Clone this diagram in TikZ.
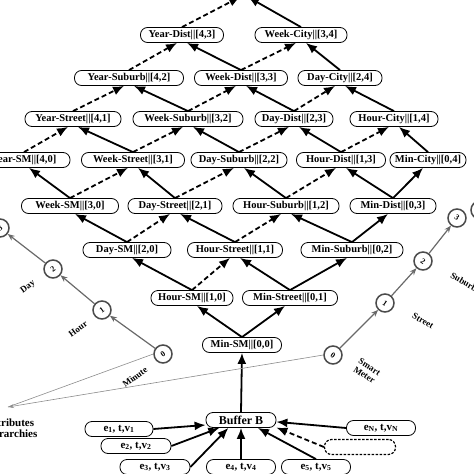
\documentclass[tikz,border=0pt]{standalone}
\usepackage{fontspec}
\setmainfont{Liberation Serif}
\usetikzlibrary{arrows.meta,calc}
\definecolor{hgray}{RGB}{105,105,105}
\definecolor{cgray}{RGB}{75,75,75}
\definecolor{lgray}{RGB}{140,140,140}
\begin{document}
\begin{tikzpicture}[x=1pt,y=-1pt,
  lat/.style={draw=black, line width=0.8pt, rounded corners=7pt, minimum height=15pt, inner sep=1pt, font=\bfseries\fontsize{10.5}{11}\selectfont},
  ev/.style={lat, font=\bfseries\fontsize{11}{12}\selectfont},
  up/.style={line width=1.8pt, -{Latex[length=11pt,width=9pt]}},
  updash/.style={up, dash pattern=on 5pt off 3pt},
  hc/.style={circle, draw=cgray, line width=1.5pt, minimum size=18pt, inner sep=0pt, font=\bfseries\fontsize{8}{8}\selectfont},
  harr/.style={draw=hgray, line width=1.2pt, -{Stealth[length=7pt,width=5.5pt]}},
  hlab/.style={font=\bfseries\fontsize{9}{9.5}\selectfont, align=center},
  thin gray/.style={draw=lgray, line width=0.6pt}
]
\useasboundingbox (0,0) rectangle (474,474);

% lattice nodes
\node[lat, minimum width=83pt]  (n43) at (182,35)  {Year-Dist||[4,3]};
\node[lat, minimum width=92pt]  (n34) at (301,35)  {Week-City||[3,4]};
\node[lat, minimum width=109pt] (n42) at (129,78)  {Year-Suburb||[4,2]};
\node[lat, minimum width=93pt]  (n33) at (241,78)  {Week-Dist||[3,3]};
\node[lat, minimum width=84pt]  (n24) at (340,78)  {Day-City||[2,4]};
\node[lat, minimum width=96pt]  (n41) at (73,119)  {Year-Street||[4,1]};
\node[lat, minimum width=110pt] (n32) at (188,119) {Week-Suburb||[3,2]};
\node[lat, minimum width=78pt]  (n23) at (294,119) {Day-Dist||[2,3]};
\node[lat, minimum width=88pt]  (n14) at (394,119) {Hour-City||[1,4]};
\node[lat, minimum width=92pt]  (n40) at (24,160)  {Year-SM||[4,0]};
\node[lat, minimum width=103pt] (n31) at (133,160) {Week-Street||[3,1]};
\node[lat, minimum width=96pt]  (n22) at (239,160) {Day-Suburb||[2,2]};
\node[lat, minimum width=89pt]  (n13) at (341,160) {Hour-Dist||[1,3]};
\node[lat, minimum width=76pt]  (n04) at (428,160) {Min-City||[0,4]};
\node[lat, minimum width=97pt]  (n30) at (70,206)  {Week-SM||[3,0]};
\node[lat, minimum width=94pt]  (n21) at (175,206) {Day-Street||[2,1]};
\node[lat, minimum width=106pt] (n12) at (286,206) {Hour-Suburb||[1,2]};
\node[lat, minimum width=86pt]  (n03) at (393,206) {Min-Dist||[0,3]};
\node[lat, minimum width=88pt]  (n20) at (127,250) {Day-SM||[2,0]};
\node[lat, minimum width=95pt]  (n11) at (235,250) {Hour-Street||[1,1]};
\node[lat, minimum width=102pt] (n02) at (352,250) {Min-Suburb||[0,2]};
\node[lat, minimum width=82pt]  (n10) at (192,298) {Hour-SM||[1,0]};
\node[lat, minimum width=95pt]  (n01) at (290,298) {Min-Street||[0,1]};
\node[lat, minimum width=79pt]  (n00) at (242,345) {Min-SM||[0,0]};
\coordinate (yc) at (244,-3);

% up-left edges (time level), solid
\foreach \a/\b in {00/10,10/20,20/30,30/40, 01/11,11/21,21/31,31/41, 02/12,12/22,22/32,32/42, 03/13,13/23,23/33,33/43, 04/14,14/24,24/34}
  \draw[up] (n\a.north) -- ([xshift=5pt]n\b.south);
% up-right edges (location level)
\foreach \a/\b in {00/01,01/02,02/03,03/04}
  \draw[up] (n\a.north) -- ([xshift=-5pt]n\b.south);
\foreach \a/\b in {10/11,11/12,12/13,13/14, 20/21,21/22,22/23,23/24, 30/31,31/32,32/33,33/34, 40/41,41/42,42/43}
  \draw[updash] (n\a.north) -- ([xshift=-5pt]n\b.south);
\draw[updash] (n43.north) -- ([xshift=-4pt]yc);
\draw[up] (n34.north) -- ([xshift=4pt]yc);

% buffer and events
\node[lat, minimum width=70pt, font=\bfseries\fontsize{12}{13}\selectfont] (bb) at (241,420) {Buffer B};
\node[ev, minimum width=68pt] (e1) at (119,429) {e\textsubscript{1}, t,v\textsubscript{1}};
\node[ev, minimum width=70pt] (e2) at (136,446) {e\textsubscript{2}, t,v\textsubscript{2}};
\node[ev, minimum width=70pt] (e3) at (155,467) {e\textsubscript{3}, t,v\textsubscript{3}};
\node[ev, minimum width=69pt] (e4) at (241,467) {e\textsubscript{4}, t,v\textsubscript{4}};
\node[ev, minimum width=69pt] (e5) at (316,467) {e\textsubscript{5}, t,v\textsubscript{5}};
\node[ev, minimum width=71pt, dash pattern=on 2.5pt off 1.5pt, line width=1.2pt] (ed) at (360,447) {};
\node[ev, minimum width=69pt] (eN) at (381,428) {e\textsubscript{N}, t,v\textsubscript{N}};

\draw[up] (e1.east) -- (bb.188);
\draw[up] (e2.east) -- (bb.200);
\draw[up] (e3.east) -- (bb.212);
\draw[up] (e4.north) -- (bb.south);
\draw[up] (e5.north) -- (bb.-25);
\draw[updash] (ed.west) -- (bb.-12);
\draw[up] (eN.west) -- (bb.-3);
\draw[up] (bb.north) -- (n00.south);

% left hierarchy (time)
\node[hc] (l0) at (163,354) {\rotatebox{36}{0}};
\node[hc] (l1) at (102,310) {\rotatebox{36}{1}};
\node[hc] (l2) at (53,269)  {\rotatebox{36}{2}};
\node[hc] (l3) at (0,228)   {\rotatebox{36}{3}};
\draw[harr] (l0) -- (l1);
\draw[harr] (l1) -- (l2);
\draw[harr] (l2) -- (l3);
\node[hlab, rotate=36] (tmin) at (135,377) {Minute};
\node[hlab, rotate=36] (thour) at (78,329) {Hour};
\node[hlab, rotate=36] (tday) at (28,287) {Day};

% right hierarchy (location)
\node[hc] (r0) at (333,355) {\rotatebox{-35}{0}};
\node[hc] (r1) at (385,303) {\rotatebox{-35}{1}};
\node[hc] (r2) at (423,261) {\rotatebox{-35}{2}};
\node[hc] (r3) at (457,218) {\rotatebox{-35}{3}};
\node[hc] (r4) at (480,210) {\rotatebox{-35}{4}};
\draw[harr] (r0) -- (r1);
\draw[harr] (r1) -- (r2);
\draw[harr] (r2) -- (r3);
\node[hlab, rotate=-33] (lsm) at (367,371) {Smart\\Meter};
\node[hlab, rotate=-30] (lst) at (423,321) {Street};
\node[hlab, rotate=-30] (lsu) at (464,282) {Suburb};

% attributes hierarchies
\coordinate (attr) at (8,407);
\node[font=\bfseries\fontsize{11}{10.5}\selectfont, align=center, inner sep=0pt] (ah) at (10,428) {Attributes\\Hierarchies};
\draw[thin gray] (l0.west) -- (attr);
\draw[thin gray, -{Stealth[length=6pt,width=4pt]}] (r0.west) -- (attr);
\end{tikzpicture}
\end{document}
